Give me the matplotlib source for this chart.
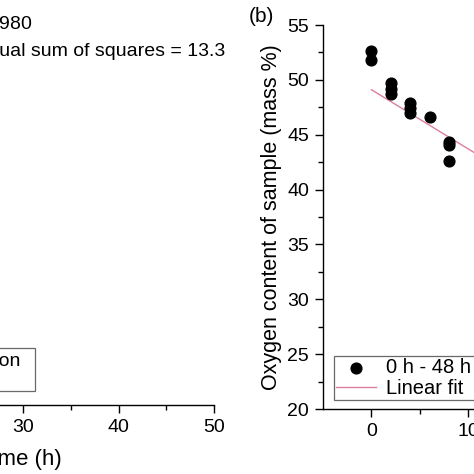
import matplotlib
matplotlib.use('Agg')
import matplotlib.pyplot as plt
import numpy as np
from matplotlib.lines import Line2D

plt.rcParams['font.family'] = ['Liberation Sans', 'DejaVu Sans']

# right panel: oxygen content vs time (0 h - 48 h)
time_h = [0, 0, 2, 2, 2, 4, 4, 4, 6, 8, 8, 8]
oxygen = [52.6, 51.8, 49.7, 49.2, 48.7, 47.9, 47.4, 47.0, 46.6, 44.3, 44.1, 42.6]
fit_intercept = 49.1
fit_slope = -0.54
fit_range = [0, 48]

# left panel annotation
r2_text = 'R$^2$ = 0.980'
rss_text = 'Residual sum of squares = 13.3'

W = 474.0
fig = plt.figure(figsize=(4.74, 4.74), dpi=100)

# left panel (mostly cut off)
ax1 = fig.add_axes([-311 / W, 1 - 405 / W, 525 / W, 380 / W])
ax1.set_xlim(-5, 50)
ax1.set_ylim(0, 1)
for s in ['top', 'right', 'left']:
    ax1.spines[s].set_visible(False)
ax1.spines['bottom'].set_linewidth(1.0)
ax1.set_xticks([0, 10, 20, 30, 40, 50])
ax1.set_xticks([5, 15, 25, 35, 45], minor=True)
ax1.set_yticks([])
ax1.tick_params(axis='x', which='major', length=6, width=1, labelsize=14, pad=4)
ax1.tick_params(axis='x', which='minor', length=3.5, width=1)
ax1.set_xlabel('Reaction time (h)', fontsize=16, ha='right', va='center')
ax1.xaxis.set_label_coords((62 + 311) / 525, -55 / 380)
handles = [Line2D([], [], color='red'),
           Line2D([], [], color='black', marker='s', linestyle='none')]
leg1 = ax1.legend(handles, ['Simulation  ', 'Data'], loc='lower right',
                  bbox_to_anchor=(35 / W, 1 - 391 / W), bbox_transform=fig.transFigure,
                  fontsize=14, frameon=True, fancybox=False, edgecolor='#444444',
                  borderpad=0.2, labelspacing=0.0, handletextpad=0.5, borderaxespad=0)
leg1.get_frame().set_linewidth(0.9)

fig.text(33 / W, 1 - 30 / W, r2_text, ha='right', va='baseline', fontsize=14)
fig.text(225 / W, 1 - 56 / W, rss_text, ha='right', va='baseline', fontsize=14)

# right panel
ax2 = fig.add_axes([323 / W, 1 - 409 / W, 533 / W, 384 / W])
ax2.scatter(time_h, oxygen, s=60, color='black', zorder=3, label='0 h - 48 h data')
xf = np.array(fit_range)
ax2.plot(xf, fit_intercept + fit_slope * xf, color='#dc7f9c', lw=1.0, label='Linear fit')
ax2.set_xlim(-5, 50)
ax2.set_ylim(20, 55)
for s in ['top', 'right']:
    ax2.spines[s].set_visible(False)
for s in ['left', 'bottom']:
    ax2.spines[s].set_linewidth(1.0)
ax2.set_xticks([0, 10, 20, 30, 40, 50])
ax2.set_xticks([5, 15, 25, 35, 45], minor=True)
ax2.set_yticks([20, 25, 30, 35, 40, 45, 50, 55])
ax2.set_yticks([22.5, 27.5, 32.5, 37.5, 42.5, 47.5, 52.5], minor=True)
ax2.tick_params(which='major', length=6, width=1, labelsize=14, pad=4)
ax2.tick_params(which='minor', length=3.5, width=1)
ax2.set_ylabel('Oxygen content of sample (mass %)', fontsize=15.5, labelpad=4)
leg2 = ax2.legend(loc='lower left', bbox_to_anchor=(334 / W, 1 - 400 / W),
                  bbox_transform=fig.transFigure, fontsize=14.5, frameon=True,
                  fancybox=False, edgecolor='#444444', borderpad=0.1,
                  labelspacing=0.1, handletextpad=0.5, handlelength=2.0,
                  borderaxespad=0)
leg2.get_frame().set_linewidth(0.9)

fig.text(249 / W, 1 - 22 / W, '(b)', fontsize=15)

fig.savefig('out.png', dpi=100)
